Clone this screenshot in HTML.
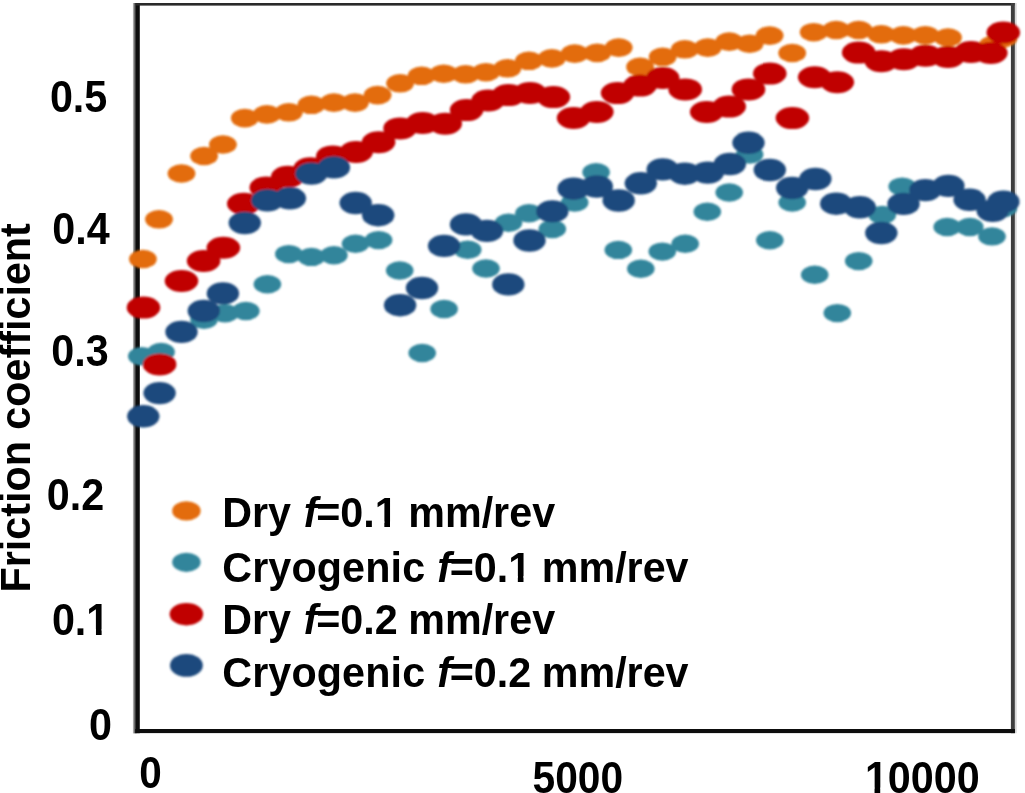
<!DOCTYPE html>
<html lang="en">
<head>
<meta charset="utf-8">
<title>Friction coefficient chart</title>
<style>
html,body{margin:0;padding:0;background:#fff;}
body{width:1025px;height:793px;overflow:hidden;position:relative;}
svg{position:absolute;left:0;top:0;display:block;}
text{font-family:"Liberation Sans",sans-serif;font-weight:bold;fill:#000;}
.tick{font-size:41.3px;}
.leg{font-size:41.3px;}
.ttl{font-size:41.3px;}
.o{fill:#e36c0a;}
.t{fill:#31859b;}
.r{fill:#c00000;}
.n{fill:#1f497d;}
</style>
</head>
<body>
<svg width="1025" height="793" viewBox="0 0 1025 793">
<defs><linearGradient id="lg" x1="0" y1="0" x2="1" y2="0"><stop offset="0" stop-color="#c8c8c8"/><stop offset="0.5" stop-color="#6a6a6a"/><stop offset="1" stop-color="#141414"/></linearGradient><filter id="b2" x="-2%" y="-2%" width="104%" height="104%"><feGaussianBlur stdDeviation="0.7"/></filter><filter id="b" x="-5%" y="-5%" width="110%" height="110%"><feGaussianBlur stdDeviation="1.05"/></filter></defs>
<rect x="0" y="0" width="1025" height="793" fill="#fff"/>
<!-- frame -->
<g id="frame" filter="url(#b2)">
<rect x="132.9" y="3" width="3.3" height="730.4" fill="url(#lg)"/>
<rect x="136" y="3" width="3.8" height="730.2" fill="#0a0a0a"/>
<rect x="136" y="3" width="879" height="2.6" fill="#2a2a2a"/>
<rect x="1010.9" y="3" width="4" height="730.2" fill="#3c3c3c"/>
<rect x="1014.9" y="3" width="1.8" height="730.2" fill="#d8d8d8"/>
<rect x="135.2" y="729" width="879.8" height="4.1" fill="#0d0d0d"/>
</g>
<!-- data -->
<g id="dots" filter="url(#b)">
<ellipse class="o" cx="142.9" cy="259.0" rx="13.9" ry="9.3"/>
<ellipse class="o" cx="159" cy="219.3" rx="13.9" ry="9.3"/>
<ellipse class="o" cx="181.5" cy="173.5" rx="13.9" ry="9.3"/>
<ellipse class="o" cx="204.1" cy="156" rx="13.9" ry="9.3"/>
<ellipse class="o" cx="222.9" cy="144.5" rx="13.9" ry="9.3"/>
<ellipse class="o" cx="244.8" cy="118.1" rx="13.9" ry="9.3"/>
<ellipse class="o" cx="266.9" cy="114.4" rx="13.9" ry="9.3"/>
<ellipse class="o" cx="288.8" cy="112.3" rx="13.9" ry="9.3"/>
<ellipse class="o" cx="311.4" cy="104.8" rx="13.9" ry="9.3"/>
<ellipse class="o" cx="333.9" cy="102.6" rx="13.9" ry="9.3"/>
<ellipse class="o" cx="355" cy="102.6" rx="13.9" ry="9.3"/>
<ellipse class="o" cx="377.6" cy="95.1" rx="13.9" ry="9.3"/>
<ellipse class="o" cx="400.1" cy="83.3" rx="13.9" ry="9.3"/>
<ellipse class="o" cx="421.6" cy="75.8" rx="13.9" ry="9.3"/>
<ellipse class="o" cx="443.7" cy="73.7" rx="13.9" ry="9.3"/>
<ellipse class="o" cx="465.6" cy="74.3" rx="13.9" ry="9.3"/>
<ellipse class="o" cx="486" cy="72.2" rx="13.9" ry="9.3"/>
<ellipse class="o" cx="507.4" cy="68.3" rx="13.9" ry="9.3"/>
<ellipse class="o" cx="528.9" cy="60.8" rx="13.9" ry="9.3"/>
<ellipse class="o" cx="551.8" cy="58.4" rx="13.9" ry="9.3"/>
<ellipse class="o" cx="574.7" cy="53.6" rx="13.9" ry="9.3"/>
<ellipse class="o" cx="597.2" cy="52.9" rx="13.9" ry="9.3"/>
<ellipse class="o" cx="618.7" cy="47.6" rx="13.9" ry="9.3"/>
<ellipse class="o" cx="640.1" cy="66.9" rx="13.9" ry="9.3"/>
<ellipse class="o" cx="662.7" cy="56.8" rx="13.9" ry="9.3"/>
<ellipse class="o" cx="684.8" cy="49.3" rx="13.9" ry="9.3"/>
<ellipse class="o" cx="707.8" cy="47.6" rx="13.9" ry="9.3"/>
<ellipse class="o" cx="729.2" cy="41.6" rx="13.9" ry="9.3"/>
<ellipse class="o" cx="749.6" cy="43.7" rx="13.9" ry="9.3"/>
<ellipse class="o" cx="769.6" cy="35.6" rx="13.9" ry="9.3"/>
<ellipse class="o" cx="792.2" cy="53" rx="13.9" ry="9.3"/>
<ellipse class="o" cx="813.7" cy="32.2" rx="13.9" ry="9.3"/>
<ellipse class="o" cx="836.2" cy="30" rx="13.9" ry="9.3"/>
<ellipse class="o" cx="858.7" cy="30" rx="13.9" ry="9.3"/>
<ellipse class="o" cx="881.3" cy="34.3" rx="13.9" ry="9.3"/>
<ellipse class="o" cx="903.3" cy="35.4" rx="13.9" ry="9.3"/>
<ellipse class="o" cx="925.3" cy="35.2" rx="13.9" ry="9.3"/>
<ellipse class="o" cx="948" cy="37.5" rx="13.9" ry="9.3"/>
<ellipse class="o" cx="992.8" cy="45" rx="13.9" ry="9.3"/>
<ellipse class="o" cx="1003.5" cy="38" rx="13.9" ry="9.3"/>
<ellipse class="t" cx="141.8" cy="356.2" rx="13.8" ry="9.2"/>
<ellipse class="t" cx="161.1" cy="351.9" rx="13.8" ry="9.2"/>
<ellipse class="t" cx="204" cy="319.7" rx="13.8" ry="9.2"/>
<ellipse class="t" cx="225" cy="313.2" rx="13.8" ry="9.2"/>
<ellipse class="t" cx="245.9" cy="311" rx="13.8" ry="9.2"/>
<ellipse class="t" cx="267.4" cy="284.2" rx="13.8" ry="9.2"/>
<ellipse class="t" cx="288.8" cy="254.1" rx="13.8" ry="9.2"/>
<ellipse class="t" cx="311.4" cy="256.9" rx="13.8" ry="9.2"/>
<ellipse class="t" cx="333.9" cy="255.2" rx="13.8" ry="9.2"/>
<ellipse class="t" cx="355.5" cy="243.8" rx="13.8" ry="9.2"/>
<ellipse class="t" cx="378.6" cy="240.1" rx="13.8" ry="9.2"/>
<ellipse class="t" cx="399.7" cy="270.5" rx="13.8" ry="9.2"/>
<ellipse class="t" cx="422.2" cy="353" rx="13.8" ry="9.2"/>
<ellipse class="t" cx="444.1" cy="309" rx="13.8" ry="9.2"/>
<ellipse class="t" cx="467.7" cy="249.8" rx="13.8" ry="9.2"/>
<ellipse class="t" cx="486" cy="268.5" rx="13.8" ry="9.2"/>
<ellipse class="t" cx="508.5" cy="222.7" rx="13.8" ry="9.2"/>
<ellipse class="t" cx="528.9" cy="213.3" rx="13.8" ry="9.2"/>
<ellipse class="t" cx="552.3" cy="229.1" rx="13.8" ry="9.2"/>
<ellipse class="t" cx="574.7" cy="202.6" rx="13.8" ry="9.2"/>
<ellipse class="t" cx="596.1" cy="172.2" rx="13.8" ry="9.2"/>
<ellipse class="t" cx="618.3" cy="249.9" rx="13.8" ry="9.2"/>
<ellipse class="t" cx="640.8" cy="268.7" rx="13.8" ry="9.2"/>
<ellipse class="t" cx="662.3" cy="251.6" rx="13.8" ry="9.2"/>
<ellipse class="t" cx="685.2" cy="243.8" rx="13.8" ry="9.2"/>
<ellipse class="t" cx="707.3" cy="211.7" rx="13.8" ry="9.2"/>
<ellipse class="t" cx="729.2" cy="192.5" rx="13.8" ry="9.2"/>
<ellipse class="t" cx="749.6" cy="154.6" rx="13.8" ry="9.2"/>
<ellipse class="t" cx="769.8" cy="240.3" rx="13.8" ry="9.2"/>
<ellipse class="t" cx="792.2" cy="202.6" rx="13.8" ry="9.2"/>
<ellipse class="t" cx="814.7" cy="274.7" rx="13.8" ry="9.2"/>
<ellipse class="t" cx="837.3" cy="313.1" rx="13.8" ry="9.2"/>
<ellipse class="t" cx="858.7" cy="261.1" rx="13.8" ry="9.2"/>
<ellipse class="t" cx="882.3" cy="214.9" rx="13.8" ry="9.2"/>
<ellipse class="t" cx="902.2" cy="186.6" rx="13.8" ry="9.2"/>
<ellipse class="t" cx="947.2" cy="227" rx="13.8" ry="9.2"/>
<ellipse class="t" cx="969.8" cy="227" rx="13.8" ry="9.2"/>
<ellipse class="t" cx="992" cy="236.4" rx="13.8" ry="9.2"/>
<ellipse class="t" cx="1003.5" cy="208" rx="13.8" ry="9.2"/>
<ellipse class="r" cx="143.5" cy="307.6" rx="16.8" ry="11"/>
<ellipse class="r" cx="159.6" cy="364.4" rx="16.8" ry="11"/>
<ellipse class="r" cx="181.5" cy="281" rx="16.8" ry="11"/>
<ellipse class="r" cx="203.6" cy="261" rx="16.8" ry="11"/>
<ellipse class="r" cx="223.4" cy="247.7" rx="16.8" ry="11"/>
<ellipse class="r" cx="243.8" cy="203.7" rx="16.8" ry="11"/>
<ellipse class="r" cx="266.3" cy="187.6" rx="16.8" ry="11"/>
<ellipse class="r" cx="287.8" cy="176.8" rx="16.8" ry="11"/>
<ellipse class="r" cx="310.3" cy="168.2" rx="16.8" ry="11"/>
<ellipse class="r" cx="332.8" cy="156.4" rx="16.8" ry="11"/>
<ellipse class="r" cx="356.1" cy="152" rx="16.8" ry="11"/>
<ellipse class="r" cx="378.6" cy="142.3" rx="16.8" ry="11"/>
<ellipse class="r" cx="400.1" cy="128.4" rx="16.8" ry="11"/>
<ellipse class="r" cx="422.6" cy="123" rx="16.8" ry="11"/>
<ellipse class="r" cx="445.2" cy="123.7" rx="16.8" ry="11"/>
<ellipse class="r" cx="466.6" cy="110.1" rx="16.8" ry="11"/>
<ellipse class="r" cx="488.1" cy="100.5" rx="16.8" ry="11"/>
<ellipse class="r" cx="508.5" cy="95.1" rx="16.8" ry="11"/>
<ellipse class="r" cx="530" cy="93" rx="16.8" ry="11"/>
<ellipse class="r" cx="553.4" cy="97.1" rx="16.8" ry="11"/>
<ellipse class="r" cx="573.6" cy="118" rx="16.8" ry="11"/>
<ellipse class="r" cx="596.8" cy="112" rx="16.8" ry="11"/>
<ellipse class="r" cx="617.6" cy="93.1" rx="16.8" ry="11"/>
<ellipse class="r" cx="640.1" cy="85.6" rx="16.8" ry="11"/>
<ellipse class="r" cx="662.7" cy="78" rx="16.8" ry="11"/>
<ellipse class="r" cx="685.2" cy="89.4" rx="16.8" ry="11"/>
<ellipse class="r" cx="706.7" cy="112" rx="16.8" ry="11"/>
<ellipse class="r" cx="729.2" cy="106.6" rx="16.8" ry="11"/>
<ellipse class="r" cx="748.5" cy="89.4" rx="16.8" ry="11"/>
<ellipse class="r" cx="769.8" cy="73.6" rx="16.8" ry="11"/>
<ellipse class="r" cx="792.4" cy="118.1" rx="16.8" ry="11"/>
<ellipse class="r" cx="814.7" cy="77.3" rx="16.8" ry="11"/>
<ellipse class="r" cx="837.3" cy="82.2" rx="16.8" ry="11"/>
<ellipse class="r" cx="858.7" cy="52.6" rx="16.8" ry="11"/>
<ellipse class="r" cx="881.3" cy="61.2" rx="16.8" ry="11"/>
<ellipse class="r" cx="903.8" cy="59.2" rx="16.8" ry="11"/>
<ellipse class="r" cx="925.4" cy="55.8" rx="16.8" ry="11"/>
<ellipse class="r" cx="948" cy="57" rx="16.8" ry="11"/>
<ellipse class="r" cx="971" cy="52" rx="16.8" ry="11"/>
<ellipse class="r" cx="990.8" cy="53" rx="16.8" ry="11"/>
<ellipse class="r" cx="1003.3" cy="32.6" rx="16.8" ry="11"/>
<ellipse class="n" cx="143.3" cy="416.3" rx="16.2" ry="11.2"/>
<ellipse class="n" cx="159.6" cy="393.1" rx="16.2" ry="11.2"/>
<ellipse class="n" cx="181.5" cy="331.9" rx="16.2" ry="11.2"/>
<ellipse class="n" cx="203.8" cy="311" rx="16.2" ry="11.2"/>
<ellipse class="n" cx="222.9" cy="293.4" rx="16.2" ry="11.2"/>
<ellipse class="n" cx="244.8" cy="223" rx="16.2" ry="11.2"/>
<ellipse class="n" cx="267.4" cy="200.4" rx="16.2" ry="11.2"/>
<ellipse class="n" cx="289.9" cy="198.3" rx="16.2" ry="11.2"/>
<ellipse class="n" cx="311.4" cy="173.6" rx="16.2" ry="11.2"/>
<ellipse class="n" cx="333.9" cy="167.4" rx="16.2" ry="11.2"/>
<ellipse class="n" cx="355.7" cy="203" rx="16.2" ry="11.2"/>
<ellipse class="n" cx="378.2" cy="215.2" rx="16.2" ry="11.2"/>
<ellipse class="n" cx="400.1" cy="305.2" rx="16.2" ry="11.2"/>
<ellipse class="n" cx="422" cy="288" rx="16.2" ry="11.2"/>
<ellipse class="n" cx="444.1" cy="245.9" rx="16.2" ry="11.2"/>
<ellipse class="n" cx="466" cy="224.4" rx="16.2" ry="11.2"/>
<ellipse class="n" cx="487" cy="230.9" rx="16.2" ry="11.2"/>
<ellipse class="n" cx="508.3" cy="284.4" rx="16.2" ry="11.2"/>
<ellipse class="n" cx="529.5" cy="240.5" rx="16.2" ry="11.2"/>
<ellipse class="n" cx="552.3" cy="211.4" rx="16.2" ry="11.2"/>
<ellipse class="n" cx="573.6" cy="188.7" rx="16.2" ry="11.2"/>
<ellipse class="n" cx="596.8" cy="186.5" rx="16.2" ry="11.2"/>
<ellipse class="n" cx="618.7" cy="200.5" rx="16.2" ry="11.2"/>
<ellipse class="n" cx="640.8" cy="183.3" rx="16.2" ry="11.2"/>
<ellipse class="n" cx="662.7" cy="169.4" rx="16.2" ry="11.2"/>
<ellipse class="n" cx="684.8" cy="173.7" rx="16.2" ry="11.2"/>
<ellipse class="n" cx="707.8" cy="172.6" rx="16.2" ry="11.2"/>
<ellipse class="n" cx="729.9" cy="164" rx="16.2" ry="11.2"/>
<ellipse class="n" cx="748.5" cy="142.8" rx="16.2" ry="11.2"/>
<ellipse class="n" cx="769.8" cy="170" rx="16.2" ry="11.2"/>
<ellipse class="n" cx="792.2" cy="188" rx="16.2" ry="11.2"/>
<ellipse class="n" cx="815.4" cy="179" rx="16.2" ry="11.2"/>
<ellipse class="n" cx="836.2" cy="203.7" rx="16.2" ry="11.2"/>
<ellipse class="n" cx="859.8" cy="207.3" rx="16.2" ry="11.2"/>
<ellipse class="n" cx="881.3" cy="233" rx="16.2" ry="11.2"/>
<ellipse class="n" cx="903.5" cy="203.9" rx="16.2" ry="11.2"/>
<ellipse class="n" cx="925.3" cy="190.1" rx="16.2" ry="11.2"/>
<ellipse class="n" cx="948.4" cy="185.9" rx="16.2" ry="11.2"/>
<ellipse class="n" cx="969.6" cy="199.8" rx="16.2" ry="11.2"/>
<ellipse class="n" cx="992.7" cy="210.8" rx="16.2" ry="11.2"/>
<ellipse class="n" cx="1003.4" cy="201.7" rx="16.2" ry="11.2"/>
<!-- legend markers -->
<ellipse class="o" cx="186.4" cy="510.9" rx="14.2" ry="9.6"/>
<ellipse class="t" cx="186.4" cy="562.3" rx="14.2" ry="9.6"/>
<ellipse class="r" cx="186.4" cy="614.2" rx="16.8" ry="11.2"/>
<ellipse class="n" cx="186.4" cy="665.4" rx="16.4" ry="11.4"/>
</g>
<g transform="translate(49.9 111.7) scale(1 1.06)"><text class="tick" id="y5">0.5</text></g>
<g transform="translate(52.2 243.7) scale(1 1.06)"><text class="tick" id="y4">0.4</text></g>
<g transform="translate(51.2 366.0) scale(1 1.06)"><text class="tick" id="y3">0.3</text></g>
<g transform="translate(46.7 509.9) scale(1 1.06)"><text class="tick" id="y2">0.2</text></g>
<g transform="translate(51.9 634.7) scale(1 1.06)"><text class="tick" id="y1">0.1</text><rect x="34.83" y="-5.21" width="9.23" height="6.01" fill="#fff"/><rect x="49.73" y="-5.21" width="8.51" height="6.01" fill="#fff"/></g>
<g transform="translate(89 740.4) scale(1 1.06)"><text class="tick" id="y0">0</text></g>
<g transform="translate(139.3 787.5) scale(0.98 1.06)"><text class="tick" id="x0">0</text></g>
<g transform="translate(532.6 793.4) scale(0.985 1.06)"><text class="tick" id="x5">5000</text></g>
<g transform="translate(864.9 793.2) scale(1 1.06)"><text class="tick" id="x10">10000</text><rect x="0.41" y="-5.21" width="9.23" height="6.01" fill="#fff"/><rect x="15.31" y="-5.21" width="8.51" height="6.01" fill="#fff"/></g>
<g transform="translate(30.2 592.5) rotate(-90) scale(1 1.02)"><text class="ttl" id="yt">Friction coefficient</text></g>
<g transform="translate(222.2 526.9) scale(1 1.045)"><text class="leg" id="l1">Dry <tspan font-style="italic" dx="1.2">f</tspan><tspan dx="-1.3">=0.1</tspan><tspan dx="-0.9"> mm/rev</tspan></text><rect x="152.90" y="-5.21" width="9.23" height="6.01" fill="#fff"/><rect x="167.80" y="-5.21" width="8.51" height="6.01" fill="#fff"/></g>
<g transform="translate(222.2 581.5) scale(1 1.045)"><text class="leg" id="l2"><tspan letter-spacing="0.13">Cryogenic</tspan> <tspan font-style="italic" dx="0.6">f</tspan><tspan dx="-1.4">=0.1</tspan><tspan dx="-0.9"> mm/rev</tspan></text><rect x="286.40" y="-5.21" width="9.23" height="6.01" fill="#fff"/><rect x="301.29" y="-5.21" width="8.51" height="6.01" fill="#fff"/></g>
<g transform="translate(222.2 634) scale(1 1.045)"><text class="leg" id="l3">Dry <tspan font-style="italic" dx="1.2">f</tspan><tspan dx="-1.3">=0.2</tspan><tspan dx="-0.9"> mm/rev</tspan></text></g>
<g transform="translate(222.2 686.7) scale(1 1.045)"><text class="leg" id="l4"><tspan letter-spacing="0.13">Cryogenic</tspan> <tspan font-style="italic" dx="0.6">f</tspan><tspan dx="-1.4">=0.2</tspan><tspan dx="-0.9"> mm/rev</tspan></text></g>
</svg>
</body>
</html>
